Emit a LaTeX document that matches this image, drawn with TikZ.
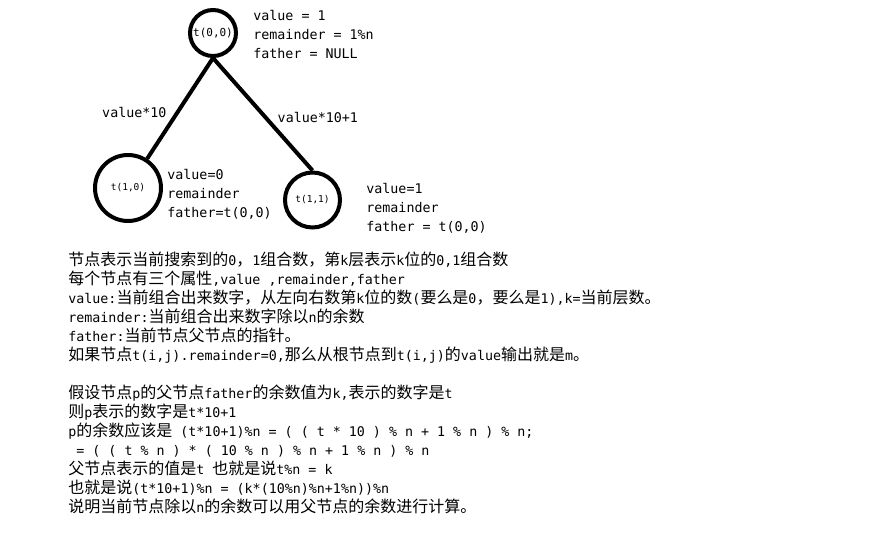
\documentclass[tikz,border=0pt]{standalone}
\usepackage{fontspec}
\setmainfont{DejaVu Sans Mono}
\newfontfamily\latinmono{DejaVu Sans Mono}
\newfontfamily\cjkfont[Scale=1.2]{Noto Sans CJK SC}
% switch to the CJK font between latin and chinese characters
\XeTeXinterchartokenstate=1
\newXeTeXintercharclass\cjkclass
\newcount\cjkcode
\def\setcjkrange#1#2{\cjkcode=#1
  \loop\XeTeXcharclass\cjkcode=\cjkclass \advance\cjkcode by 1 \ifnum\cjkcode<#2 \repeat}
\setcjkrange{"3000}{"3040}
\setcjkrange{"4E00}{"A000}
\setcjkrange{"FF00}{"FFF0}
\XeTeXinterchartoks 0 \cjkclass = {\cjkfont}
\XeTeXinterchartoks 4095 \cjkclass = {\cjkfont}
\XeTeXinterchartoks \cjkclass 0 = {\latinmono}
\XeTeXinterchartoks \cjkclass 4095 = {\latinmono}
\XeTeXinterchartoks 4095 0 = {\latinmono}

\tikzset{every picture/.style={line width=0.75pt}}

\begin{document}
\begin{tikzpicture}[x=1pt,y=-1pt,
    tnode/.style={circle, draw, line width=4pt, inner sep=0pt, font=\fontsize{9.5}{11}\selectfont},
    branch/.style={line width=4pt},
    info/.style={align=left, anchor=north west, inner sep=0pt, font=\fontsize{13.33}{19}\selectfont},
    elabel/.style={inner sep=0pt, font=\fontsize{13.33}{19}\selectfont}]
  \fill[white] (0,0) rectangle (878,534);
  \useasboundingbox (0,0) rectangle (878,534);
  %Tree nodes
  \node (root) [tnode, minimum size=46pt, font=\fontsize{11}{13}\selectfont] at (213,33) {t(0,0)};
  \node (left) [tnode, minimum size=66pt] at (128,188) {t(1,0)};
  \node (right) [tnode, minimum size=55pt] at (312.5,200) {t(1,1)};
  %Branches
  \draw [branch] (root.south) -- (left)
    node [elabel, pos=0.54, anchor=east, xshift=-9pt] {value*10};
  \draw [branch] (root.south) -- (right.north)
    node [elabel, pos=0.53, anchor=west, xshift=10pt] {value*10+1};
  %Node attributes
  \node (rootinfo) [info] at (253,10) {value = 1\\ remainder = 1\%n\\ father = NULL};
  \node (leftinfo) [info] at (167,169) {value=0\\ remainder\\ father=t(0,0)};
  \node (rightinfo) [info] at (366,183) {value=1\\ remainder\\ father = t(0,0)};
  % Text Node
  \node (notes) [info] at (68,252) {节点表示当前搜索到的0，1组合数，第k层表示k位的0,1组合数\\
    每个节点有三个属性,value ,remainder,father\\
    value:当前组合出来数字，从左向右数第k位的数(要么是0，要么是1),k=当前层数。\\
    remainder:当前组合出来数字除以n的余数\\
    father:当前节点父节点的指针。\\
    如果节点t(i,j).remainder=0,那么从根节点到t(i,j)的value输出就是m。\\[19pt]
    假设节点p的父节点father的余数值为k,表示的数字是t\\
    则p表示的数字是t*10+1\\
    p的余数应该是 (t*10+1)\%n = ( ( t * 10 ) \% n + 1 \% n ) \% n;\\
    \ = ( ( t \% n ) * ( 10 \% n ) \% n + 1 \% n ) \% n\\
    父节点表示的值是t 也就是说t\%n = k\\
    也就是说(t*10+1)\%n = (k*(10\%n)\%n+1\%n))\%n\\
    说明当前节点除以n的余数可以用父节点的余数进行计算。};
\end{tikzpicture}
\end{document}
